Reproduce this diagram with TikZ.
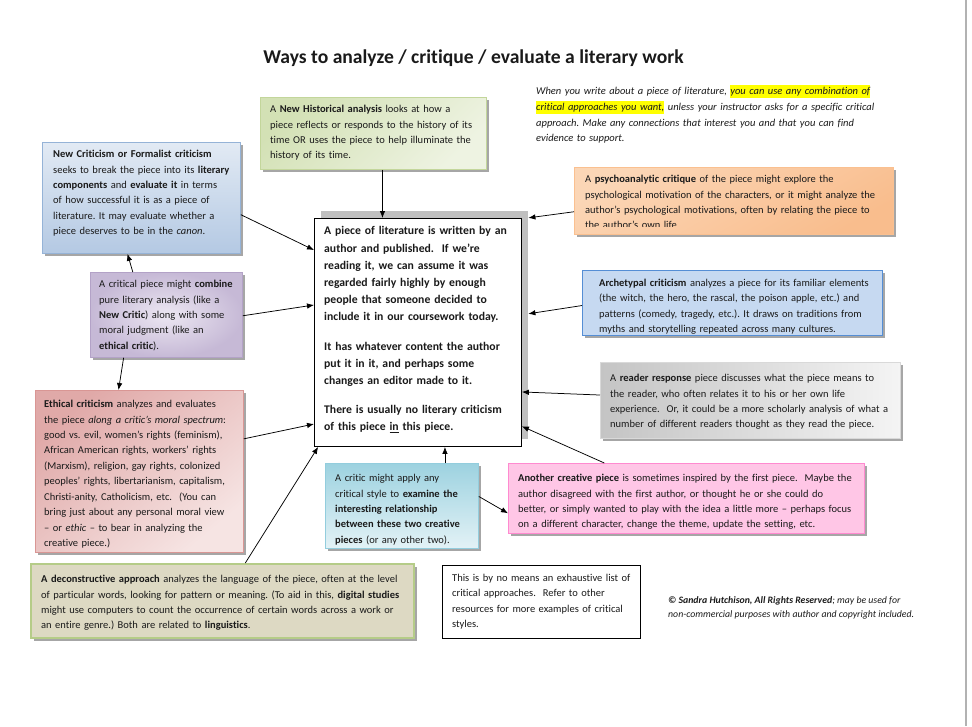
\documentclass[tikz,border=0pt]{standalone}
\usepackage{fontspec}
\setmainfont{Carlito}[Ligatures=CommonOff]
\usetikzlibrary{arrows.meta,shadows,calc}

\definecolor{inktext}{HTML}{1A1A1A}
\definecolor{hlyellow}{HTML}{FFFF00}
\definecolor{boxshadow}{HTML}{A6A6A6}
\definecolor{ncTop}{HTML}{E2EAF4}
\definecolor{ncBot}{HTML}{B4C9E3}
\definecolor{ncLine}{HTML}{95B3D7}
\definecolor{nhDark}{HTML}{D3E1B5}
\definecolor{nhLight}{HTML}{EEF3E2}
\definecolor{nhLine}{HTML}{C3D69B}
\definecolor{psTop}{HTML}{FBD6B6}
\definecolor{psBot}{HTML}{F9BD8D}
\definecolor{psLine}{HTML}{FAC090}
\definecolor{arFill}{HTML}{C6D9F1}
\definecolor{arLine}{HTML}{558ED5}
\definecolor{cbOuter}{HTML}{C6B9D6}
\definecolor{cbInner}{HTML}{ECE7F2}
\definecolor{cbLine}{HTML}{B3A2C7}
\definecolor{rrDark}{HTML}{C4C4C4}
\definecolor{rrLight}{HTML}{F4F4F4}
\definecolor{rrLine}{HTML}{D9D9D9}
\definecolor{ecDark}{HTML}{E0A9A8}
\definecolor{ecLight}{HTML}{F6E4E3}
\definecolor{ecLine}{HTML}{D99694}
\definecolor{caDark}{HTML}{9DD2E0}
\definecolor{caLight}{HTML}{E3F2F6}
\definecolor{caLine}{HTML}{93CDDD}
\definecolor{acFill}{HTML}{FFC6E6}
\definecolor{acLine}{HTML}{FF8AD0}
\definecolor{dcFill}{HTML}{DDD9C3}
\definecolor{dcLine}{HTML}{B5CC88}
\definecolor{coreShade}{HTML}{C0C0C0}

\newcommand{\hlite}[1]{{\setlength{\fboxsep}{0pt}\colorbox{hlyellow}{\rule[-3.4pt]{0pt}{13pt}#1}}}
\frenchspacing

\begin{document}
\begin{tikzpicture}[x=1pt, y=-1pt,
    critbox/.style={rectangle, anchor=north west, inner sep=0pt, line width=0.8pt,
        drop shadow={shadow xshift=3pt, shadow yshift=-3pt, fill=boxshadow, opacity=1}},
    boxtext/.style={anchor=base west, inner sep=0pt, align=left, text=inktext, text width=400pt,
        font=\fontsize{10.5}{15.45}\selectfont},
    link/.style={-{Latex[length=7pt,width=5.5pt]}, line width=0.75pt}]
\useasboundingbox (0,0) rectangle (972,726);
\draw[gray!60, line width=1.5pt] (966,0) -- (966,726);

% title and notes
\node[anchor=base, inner sep=0pt, text=inktext, font=\bfseries\fontsize{19.6}{23}\selectfont] (title) at (473.5,63) {Ways to analyze / critique / evaluate a literary work};
\node[boxtext, font=\itshape\fontsize{10.5}{15.7}\selectfont] (advice) at (536,94.6) {When you write about a piece of literature, \hlite{you can use any combination of}\\
  \hlite{critical approaches you want,} unless your instructor asks for a specific critical\\
  approach. Make any connections that interest you and that you can find\\
  evidence to support.};

% the piece itself
\node[rectangle, anchor=north west, inner sep=0pt, fill=coreShade, minimum width=207pt, minimum height=228pt] (coreshadow) at (321,211) {};
\node[rectangle, anchor=north west, inner sep=0pt, draw, fill=white, line width=0.9pt, minimum width=207pt, minimum height=228pt] (core) at (314,218) {};
\node[boxtext, font=\bfseries\fontsize{11.7}{17.2}\selectfont] (coretext) at (324,234.8) {A piece of literature is written by an\\
  author and published.\ \ If we’re\\
  reading it, we can assume it was\\
  regarded fairly highly by enough\\
  people that someone decided to\\
  include it in our coursework today.\\[12pt]
  It has whatever content the author\\
  put it in it, and perhaps some\\
  changes an editor made to it.\\[12pt]
  There is usually no literary criticism\\
  of this piece \underline{in} this piece.};

% New Criticism
\node[critbox, top color=ncTop, bottom color=ncBot, draw=ncLine, minimum width=198pt, minimum height=111pt] (newcrit) at (42,142) {};
\node[boxtext] (newcrittext) at (53,157.6) {\textbf{New Criticism or Formalist criticism}\\
  seeks to break the piece into its \textbf{literary}\\
  \textbf{components} and \textbf{evaluate it} in terms\\
  of how successful it is as a piece of\\
  literature. It may evaluate whether a\\
  piece deserves to be in the \textit{canon}.};

% New Historical
\node[critbox, top color=nhDark, bottom color=nhLight, shading angle=45, draw=nhLine, minimum width=226pt, minimum height=72pt] (newhist) at (260,97) {};
\node[boxtext] (newhisttext) at (270,112.6) {A \textbf{New Historical analysis} looks at how a\\
  piece reflects or responds to the history of its\\
  time OR uses the piece to help illuminate the\\
  history of its time.};

% psychoanalytic
\node[critbox, top color=psTop, bottom color=psBot, shading angle=30, draw=psLine, minimum width=319pt, minimum height=67pt] (psycho) at (574,167) {};
\begin{scope}
  \clip (psycho.north west) rectangle ([yshift=8pt]psycho.south east);
  \node[boxtext] (psychotext) at (585,182.6) {A \textbf{psychoanalytic critique} of the piece might explore the\\
    psychological motivation of the characters, or it might analyze the\\
    author’s psychological motivations, often by relating the piece to\\
    the author’s own life};
\end{scope}

% archetypal
\node[critbox, fill=arFill, draw=arLine, minimum width=300pt, minimum height=65pt] (archetypal) at (582,270) {};
\node[boxtext] (archetypaltext) at (599,286.4) {\textbf{Archetypal criticism} analyzes a piece for its familiar elements\\
  (the witch, the hero, the rascal, the poison apple, etc.) and\\
  patterns (comedy, tragedy, etc.). It draws on traditions from\\
  myths and storytelling repeated across many cultures.};

% combine
\node[critbox, inner color=cbInner, outer color=cbOuter, draw=cbLine, minimum width=152pt, minimum height=85pt] (combine) at (90,272) {};
\node[boxtext] (combinetext) at (99,287.6) {A critical piece might \textbf{combine}\\
  pure literary analysis (like a\\
  \textbf{New Critic}) along with some\\
  moral judgment (like an\\
  \textbf{ethical critic}).};

% reader response
\node[critbox, left color=rrDark, right color=rrLight, draw=rrLine, minimum width=300pt, minimum height=76pt] (reader) at (600,362) {};
\node[boxtext] (readertext) at (610,381.6) {A \textbf{reader response} piece discusses what the piece means to\\
  the reader, who often relates it to his or her own life\\
  experience.\ \ Or, it could be a more scholarly analysis of what a\\
  number of different readers thought as they read the piece.};

% ethical
\node[critbox, top color=ecDark, bottom color=ecLight, shading angle=40, draw=ecLine, minimum width=208pt, minimum height=162pt] (ethical) at (35,390) {};
\node[boxtext] (ethicaltext) at (44,407.6) {\textbf{Ethical criticism} analyzes and evaluates\\
  the piece \textit{along a critic’s moral spectrum}:\\
  good vs. evil, women’s rights (feminism),\\
  African American rights, workers’ rights\\
  (Marxism), religion, gay rights, colonized\\
  peoples’ rights, libertarianism, capitalism,\\
  Christi-anity, Catholicism, etc.\ \ (You can\\
  bring just about any personal moral view\\
  – or \textit{ethic} – to bear in analyzing the\\
  creative piece.)};

% critic applies a style
\node[critbox, top color=caDark, bottom color=caLight, draw=caLine, minimum width=153pt, minimum height=85pt] (critic) at (325,463) {};
\node[boxtext] (critictext) at (335,481.6) {A critic might apply any\\
  critical style to \textbf{examine the}\\
  \textbf{interesting relationship}\\
  \textbf{between these two creative}\\
  \textbf{pieces} (or any other two).};

% another creative piece
\node[critbox, fill=acFill, draw=acLine, minimum width=356pt, minimum height=70pt] (another) at (508,463) {};
\node[boxtext] (anothertext) at (518,481.6) {\textbf{Another creative piece} is sometimes inspired by the first piece.\ \ Maybe the\\
  author disagreed with the first author, or thought he or she could do\\
  better, or simply wanted to play with the idea a little more – perhaps focus\\
  on a different character, change the theme, update the setting, etc.};

% deconstructive
\node[critbox, fill=dcFill, draw=dcLine, line width=1.5pt, minimum width=383pt, minimum height=74pt] (decon) at (30,563) {};
\node[boxtext] (decontext) at (41,582.6) {\textbf{A deconstructive approach} analyzes the language of the piece, often at the level\\
  of particular words, looking for pattern or meaning. (To aid in this, \textbf{digital studies}\\
  might use computers to count the occurrence of certain words across a work or\\
  an entire genre.) Both are related to \textbf{linguistics}.};

% not exhaustive
\node[rectangle, anchor=north west, inner sep=0pt, draw, fill=white, line width=0.8pt, minimum width=198pt, minimum height=73pt] (notall) at (442,565) {};
\node[boxtext] (notalltext) at (452,581.1) {This is by no means an exhaustive list of\\
  critical approaches.\ \ Refer to other\\
  resources for more examples of critical\\
  styles.};

\node[anchor=base west, inner sep=0pt, align=left, text=inktext, font=\itshape\fontsize{9.8}{14}\selectfont] (credit) at (668,617.5) {\textbf{© Sandra Hutchison, All Rights Reserved}; may be used for\\
  non-commercial purposes with author and copyright included.};

% arrows into the piece
\draw[link] ($(newhist.south west)!0.54!(newhist.south east)$) coordinate (nh) -- (nh |- core.north);
\draw[link] ($(newcrit.north east)!0.65!(newcrit.south east)$) -- ($(core.north west)!0.14!(core.south west)$);
\draw[link] ($(psycho.north west)!0.66!(psycho.south west)$) -- ($(coreshadow.north east)!0.03!(coreshadow.south east)$);
\draw[link] ($(archetypal.north west)!0.54!(archetypal.south west)$) -- ($(coreshadow.north east)!0.45!(coreshadow.south east)$);
\draw[link] ($(reader.north west)!0.43!(reader.south west)$) -- ($(core.north east)!0.76!(core.south east)$);
\draw[link] ($(another.north west)!0.27!(another.north east)$) -- ($(core.north east)!0.91!(core.south east)$);
\draw[link] ($(combine.north east)!0.51!(combine.south east)$) -- ($(core.north west)!0.38!(core.south west)$);
\draw[link] ($(ethical.north east)!0.30!(ethical.south east)$) -- ($(core.north west)!0.90!(core.south west)$);
\draw[link] ($(critic.north west)!0.78!(critic.north east)$) coordinate (cr) -- (cr |- core.south);
\draw[link] ($(decon.north west)!0.56!(decon.north east)$) -- ($(core.south west)!0.02!(core.south east)$);
% arrows between boxes
\draw[link] ($(critic.north east)!0.39!(critic.south east)$) -- ($(another.north west)!0.71!(another.south west)$);
\draw[link] ($(combine.north west)!0.28!(combine.north east)$) -- ($(newcrit.south west)!0.43!(newcrit.south east)$);
\draw[link] ($(combine.south west)!0.22!(combine.south east)$) -- ($(ethical.north west)!0.40!(ethical.north east)$);
\end{tikzpicture}
\end{document}
